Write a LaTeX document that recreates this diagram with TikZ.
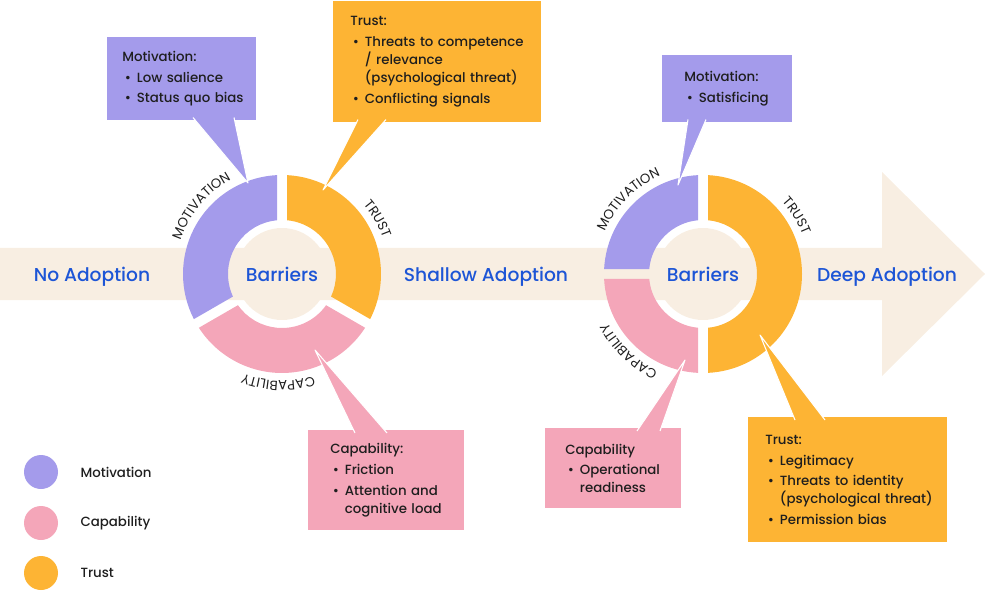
\documentclass[tikz,border=0pt]{standalone}
\usepackage{fontspec}
\setmainfont{Poppins}[BoldFont={Poppins Medium}]
\usepackage{xcolor}
\usepackage{tikz}
\usetikzlibrary{calc,positioning,decorations.text}

\definecolor{motc}{HTML}{A49BEB}
\definecolor{capc}{HTML}{F4A6B9}
\definecolor{trustc}{HTML}{FDB434}
\definecolor{bandc}{HTML}{F8EEE2}
\definecolor{bluec}{HTML}{1D55D6}
\definecolor{inkc}{HTML}{1E1E1E}

\newdimen\px \px=0.75pt
\newcommand{\itm}[1]{\mbox{\hspace*{2pt}\makebox[9pt][l]{\textbullet}#1}}
\newcommand{\cnt}[1]{\mbox{\hspace*{11pt}#1}}

% one part of a barrier ring (centre, from, to, colour)
\newcommand{\ringpart}[4]{%
  \fill[#4] ($(#1)+({#2+asin(5/99)}:99)$)
    arc[start angle={#2+asin(5/99)}, end angle={#3-asin(5/99)}, radius=99]
    -- ($(#1)+({#3-asin(5/54)}:54)$)
    arc[start angle={#3-asin(5/54)}, end angle={#2+asin(5/54)}, radius=54] -- cycle;}
% curved caption round a ring (centre, angle, half span, text)
\newcommand{\ringlabel}[4]{%
  \path[decorate, decoration={text along path, text align=center, text color=inkc,
    text={|\fontsize{10}{10}\selectfont|#4}}]
    ($(#1)+({#2+#3}:107)$) arc[start angle={#2+#3}, end angle={#2-#3}, radius=107];}

\begin{document}
\begin{tikzpicture}
  [x=0.75pt,y=0.75pt,
   stage/.style={text=bluec,font=\bfseries\fontsize{14}{16}\selectfont,inner sep=0pt,anchor=base},
   callout/.style={anchor=north west,inner ysep=0pt,align=left,text=inkc,
     font=\bfseries\fontsize{10}{13.5}\selectfont},
   tail/.style={draw=white,line width=0.8pt,line join=round},
   dot/.style={circle,minimum size=34\px,inner sep=0pt},
   key/.style={text=inkc,font=\bfseries\fontsize{10}{12}\selectfont,inner sep=0pt}]
  \useasboundingbox (0,0) rectangle (992,590);

  % band with arrow head
  \fill[bandc] (0,290) -- (882,290) -- (882,214) -- (985,316) -- (882,418)
    -- (882,342) -- (0,342) -- cycle;

  \coordinate (bL) at (282,316);
  \coordinate (bR) at (703,316);

  % first barrier ring
  \ringpart{bL}{-30}{90}{trustc}
  \ringpart{bL}{90}{210}{motc}
  \ringpart{bL}{210}{330}{capc}
  \fill[bandc] (bL) circle[radius=46];
  \ringlabel{bL}{140}{32}{MOTIVATION}
  \ringlabel{bL}{30}{22}{TRUST}
  \ringlabel{bL}{268}{32}{CAPABILITY}

  % second barrier ring
  \ringpart{bR}{-90}{90}{trustc}
  \ringpart{bR}{90}{180}{motc}
  \ringpart{bR}{180}{270}{capc}
  \fill[bandc] (bR) circle[radius=46];
  \ringlabel{bR}{135}{32}{MOTIVATION}
  \ringlabel{bR}{32}{22}{TRUST}
  \ringlabel{bR}{226}{32}{CAPABILITY}

  \node[stage] (noad) at (92,309) {No Adoption};
  \node[stage] (barL) at (282,309) {Barriers};
  \node[stage] (shad) at (486,309) {Shallow Adoption};
  \node[stage] (barR) at (703,309) {Barriers};
  \node[stage] (deep) at (887,309) {Deep Adoption};

  % tips of the callouts
  \coordinate (tipML) at (248,407);
  \coordinate (tipTL) at (323,400);
  \coordinate (tipCL) at (315,240);
  \coordinate (tipMR) at (678,405);
  \coordinate (tipCR) at (685,230);
  \coordinate (tipTR) at (760,255);

  % callout boxes
  \node[callout,fill=motc,text width=119\px,inner xsep=15\px,minimum height=83\px]
    (motL) at (107,553) {Motivation:\\[2pt]\itm{Low salience}\\[2pt]\itm{Status quo bias}};
  \node[callout,fill=trustc,text width=174\px,inner xsep=17\px,minimum height=121\px]
    (trustL) at (333,589) {Trust:\\[2pt]\itm{Threats to competence}\\\cnt{/ relevance}\\
      \cnt{(psychological threat)}\\[2pt]\itm{Conflicting signals}};
  \node[callout,fill=capc,text width=112\px,inner xsep=22\px,minimum height=100\px]
    (capL) at (308,160) {Capability:\\[2pt]\itm{Friction}\\[2pt]\itm{Attention and}\\
      \cnt{cognitive load}};
  \node[callout,fill=motc,text width=86\px,inner xsep=22\px,minimum height=67\px]
    (motR) at (662,535) {Motivation:\\[2pt]\itm{Satisficing}};
  \node[callout,fill=capc,text width=96\px,inner xsep=20\px,minimum height=80\px]
    (capR) at (545,162) {Capability\\[2pt]\itm{Operational}\\\cnt{readiness}};
  \node[callout,fill=trustc,text width=165\px,inner xsep=17\px,minimum height=125\px]
    (trustR) at (748,173) {Trust:\\[2pt]\itm{Legitimacy}\\[2pt]\itm{Threats to identity}\\
      \cnt{(psychological threat)}\\[2pt]\itm{Permission bias}};

  % callout tails
  \filldraw[tail,fill=motc] ($(motL.south west)+(86,3)$) -- (tipML) -- ($(motL.south west)+(127,3)$);
  \filldraw[tail,fill=trustc] ($(trustL.south west)+(25,3)$) -- (tipTL) -- ($(trustL.south west)+(53,3)$);
  \filldraw[tail,fill=capc] ($(capL.north west)+(47,-3)$) -- (tipCL) -- ($(capL.north west)+(79,-3)$);
  \filldraw[tail,fill=motc] ($(motR.south west)+(26,3)$) -- (tipMR) -- ($(motR.south west)+(44,3)$);
  \filldraw[tail,fill=capc] ($(capR.north west)+(92,-3)$) -- (tipCR) -- ($(capR.north west)+(115,-3)$);
  \filldraw[tail,fill=trustc] ($(trustR.north west)+(47,-3)$) -- (tipTR) -- ($(trustR.north west)+(77,-3)$);

  % legend
  \node[dot,fill=motc] (keyM) at (41,118) {};
  \node[key,right=22\px of keyM] (keyMt) {Motivation};
  \node[dot,fill=capc] (keyC) at (41,67) {};
  \node[key,right=22\px of keyC] (keyCt) {Capability};
  \node[dot,fill=trustc] (keyT) at (41,17) {};
  \node[key,right=22\px of keyT] (keyTt) {Trust};
\end{tikzpicture}
\end{document}
